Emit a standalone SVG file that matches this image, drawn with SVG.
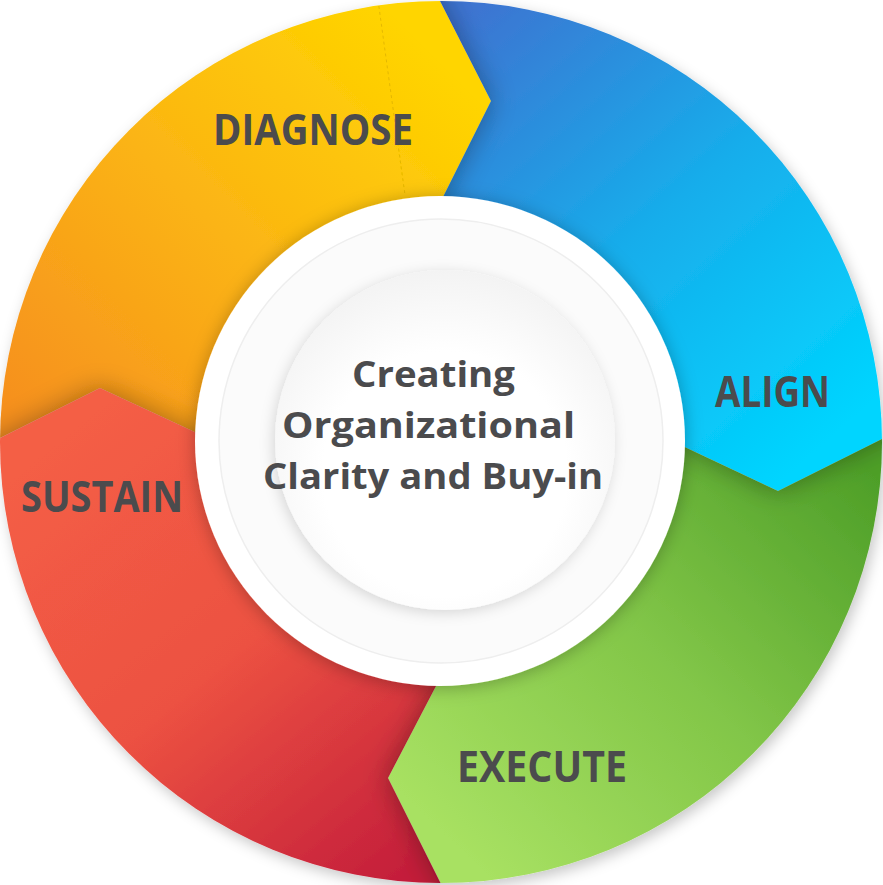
<svg xmlns="http://www.w3.org/2000/svg" xmlns:xlink="http://www.w3.org/1999/xlink" width="883" height="885" viewBox="0 0 883 885">
  <style>
    .lbl { font-family: "Open Sans", "Liberation Sans", sans-serif; font-weight: 700; fill: #4B4B4D; }
    .big { font-size: 43px; }
    .mid { font-size: 35px; }
  </style>
  <defs>
    <linearGradient id="gDiag" gradientUnits="userSpaceOnUse" x1="30" y1="430" x2="420" y2="40">
      <stop offset="0" stop-color="#F6901F"/>
      <stop offset="0.5" stop-color="#FBB414"/>
      <stop offset="1" stop-color="#FFD500"/>
    </linearGradient>
    <linearGradient id="gAlign" gradientUnits="userSpaceOnUse" x1="470" y1="10" x2="840" y2="430">
      <stop offset="0" stop-color="#3D74D1"/>
      <stop offset="0.5" stop-color="#17ADEB"/>
      <stop offset="1" stop-color="#00D5FF"/>
    </linearGradient>
    <linearGradient id="gExec" gradientUnits="userSpaceOnUse" x1="860" y1="460" x2="470" y2="860">
      <stop offset="0" stop-color="#4E9F28"/>
      <stop offset="0.5" stop-color="#82C648"/>
      <stop offset="1" stop-color="#A8E162"/>
    </linearGradient>
    <linearGradient id="gSust" gradientUnits="userSpaceOnUse" x1="60" y1="440" x2="410" y2="870">
      <stop offset="0" stop-color="#F45E45"/>
      <stop offset="0.5" stop-color="#EC5142"/>
      <stop offset="1" stop-color="#C41E3A"/>
    </linearGradient>
    <radialGradient id="gInner" cx="0.5" cy="0.6" r="0.6">
      <stop offset="0.6" stop-color="#FFFFFF"/>
      <stop offset="1" stop-color="#F3F3F3"/>
    </radialGradient>
    <clipPath id="cCircle"><circle cx="441" cy="442" r="441"/></clipPath>
    <polygon id="pDiag" points="441,442 240,453 100,388 -50,463 -50,-50 414,-50 491,101 420,243"/>
    <polygon id="pAlign" points="441,442 420,243 491,101 414,-50 933,-50 930,415 778,491 640,426"/>
    <polygon id="pExec" points="441,442 640,426 778,491 930,415 933,935 463,928 388,778 460,640"/>
    <polygon id="pSust" points="441,442 460,640 388,778 463,928 -50,935 -50,463 100,388 240,453"/>
    <clipPath id="cDiag"><use xlink:href="#pDiag"/></clipPath>
    <clipPath id="cAlign"><use xlink:href="#pAlign"/></clipPath>
    <clipPath id="cExec"><use xlink:href="#pExec"/></clipPath>
    <clipPath id="cSust"><use xlink:href="#pSust"/></clipPath>
    <filter id="fTipShadow" x="-20%" y="-20%" width="140%" height="140%">
      <feGaussianBlur in="SourceAlpha" stdDeviation="14"/>
      <feComponentTransfer><feFuncA type="linear" slope="0.35"/></feComponentTransfer>
    </filter>
    <filter id="fRing" x="-10%" y="-10%" width="120%" height="120%">
      <feDropShadow dx="3" dy="5" stdDeviation="7" flood-color="#000" flood-opacity="0.22"/>
    </filter>
    <filter id="fDisk" x="-20%" y="-20%" width="140%" height="140%">
      <feDropShadow dx="0" dy="2" stdDeviation="9" flood-color="#000" flood-opacity="0.28"/>
    </filter>
    <filter id="fInner" x="-20%" y="-20%" width="140%" height="140%">
      <feDropShadow dx="-2" dy="3" stdDeviation="7" flood-color="#000" flood-opacity="0.15"/>
    </filter>
  </defs>

  <g id="ring" filter="url(#fRing)">
    <g clip-path="url(#cCircle)">
      <g id="node-diagnose"><use xlink:href="#pDiag" fill="url(#gDiag)"/></g>
      <g id="node-align"><use xlink:href="#pAlign" fill="url(#gAlign)"/></g>
      <g id="node-execute"><use xlink:href="#pExec" fill="url(#gExec)"/></g>
      <g id="node-sustain"><use xlink:href="#pSust" fill="url(#gSust)"/></g>
      <g id="connectors">
        <g clip-path="url(#cAlign)"><use xlink:href="#pDiag" fill="#000" filter="url(#fTipShadow)"/></g>
        <g clip-path="url(#cExec)"><use xlink:href="#pAlign" fill="#000" filter="url(#fTipShadow)"/></g>
        <g clip-path="url(#cSust)"><use xlink:href="#pExec" fill="#000" filter="url(#fTipShadow)"/></g>
        <g clip-path="url(#cDiag)"><use xlink:href="#pSust" fill="#000" filter="url(#fTipShadow)"/></g>
      </g>
      <line x1="378" y1="0" x2="405" y2="195" stroke="#D9AE00" stroke-width="1" stroke-dasharray="3 3" opacity="0.7"/>
    </g>
  </g>

  <g id="center">
    <circle cx="440" cy="441" r="245" fill="#FFFFFF" filter="url(#fDisk)"/>
    <circle cx="441" cy="441" r="222" fill="#FBFBFB" stroke="#EEEEEE" stroke-width="1.5"/>
    <circle cx="445" cy="440" r="170" fill="url(#gInner)" filter="url(#fInner)"/>
    <text class="lbl mid" x="352" y="387" textLength="163" lengthAdjust="spacingAndGlyphs">Creating</text>
    <text class="lbl mid" x="282" y="438" textLength="293" lengthAdjust="spacingAndGlyphs">Organizational</text>
    <text class="lbl mid" x="263" y="489" textLength="340" lengthAdjust="spacingAndGlyphs">Clarity and Buy-in</text>
  </g>

  <g id="labels">
    <text class="lbl big" x="213" y="145" textLength="200" lengthAdjust="spacingAndGlyphs">DIAGNOSE</text>
    <text class="lbl big" x="715" y="407" textLength="115" lengthAdjust="spacingAndGlyphs">ALIGN</text>
    <text class="lbl big" x="457" y="782" textLength="170" lengthAdjust="spacingAndGlyphs">EXECUTE</text>
    <text class="lbl big" x="21" y="512" textLength="162" lengthAdjust="spacingAndGlyphs">SUSTAIN</text>
  </g>
</svg>
